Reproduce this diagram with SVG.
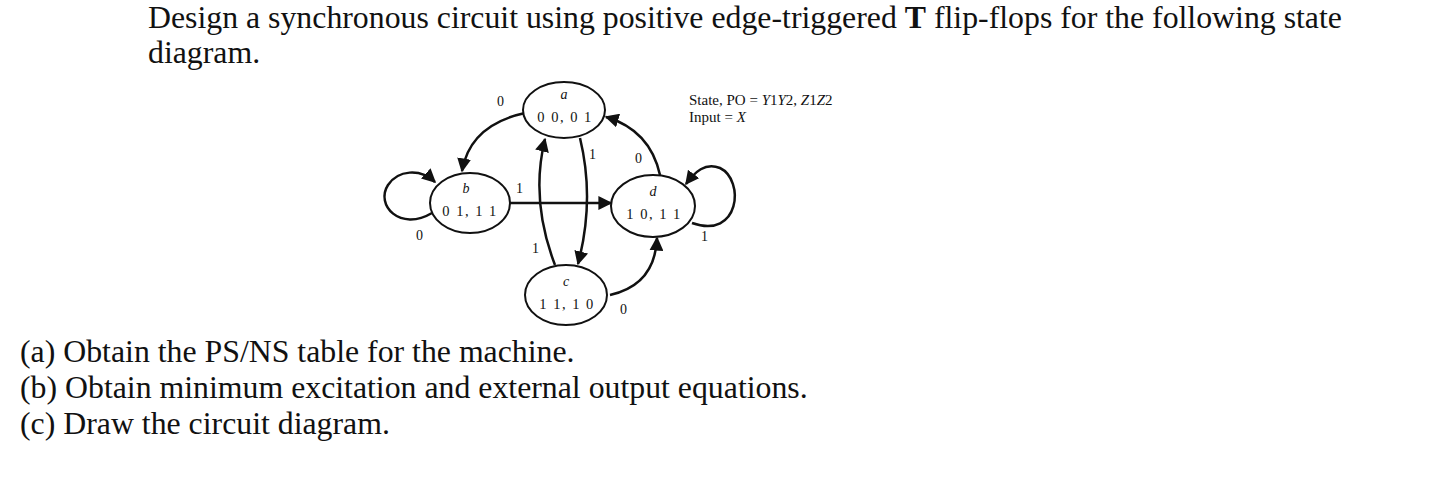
<svg xmlns="http://www.w3.org/2000/svg" width="1440" height="483" viewBox="0 0 1440 483">
<style>
.t{font-family:"Liberation Serif",serif;fill:#111}
.big{font-size:31.8px}
.s{font-size:14px}
.v{font-size:14.5px;letter-spacing:1.5px}
.n{fill:#fff;stroke:#111;stroke-width:2}
.e{fill:none;stroke:#111;stroke-width:2.5}
</style>
<defs><marker id="ah" viewBox="0 0 10 10" refX="9" refY="5" markerWidth="14" markerHeight="14" orient="auto" markerUnits="userSpaceOnUse"><path d="M0,0L10,5L0,10z" fill="#111"/></marker></defs>
<rect width="1440" height="483" fill="#fff"/>
<text class="t big" x="148" y="28">Design a synchronous circuit using positive edge-triggered <tspan font-weight="bold">T</tspan> flip-flops for the following state</text>
<text class="t big" x="148" y="63">diagram.</text>
<g id="connectors">
<path class="e" d="M525,113 Q470,125 462,171" marker-end="url(#ah)"/>
<path class="e" d="M432,213 C400,232 375,205 388,185 C398,170 420,168 435,182" marker-end="url(#ah)"/>
<path class="e" d="M510,203 L611,203" marker-end="url(#ah)"/>
<path class="e" d="M555,265 Q530,200 545,139" marker-end="url(#ah)"/>
<path class="e" d="M580,138 Q595,200 578,264" marker-end="url(#ah)"/>
<path class="e" d="M610,295 Q655,285 657,238" marker-end="url(#ah)"/>
<path class="e" d="M660,175 Q650,130 606,117" marker-end="url(#ah)"/>
<path class="e" d="M692,223 C740,240 745,180 720,168 C705,162 695,172 686,184" marker-end="url(#ah)"/>
</g>
<g class="t s">
<text x="497" y="106">0</text>
<text x="416" y="240">0</text>
<text x="516" y="193">1</text>
<text x="532" y="253">1</text>
<text x="589" y="159">1</text>
<text x="635" y="163">0</text>
<text x="620" y="314">0</text>
<text x="701" y="241">1</text>
</g>
<g id="a"><ellipse class="n" cx="564" cy="110" rx="41" ry="28"/><text class="t s" x="564" y="99" text-anchor="middle" font-style="italic">a</text><text class="t v" x="565" y="122" text-anchor="middle">0 0, 0 1</text></g>
<g id="b"><ellipse class="n" cx="470" cy="203" rx="40" ry="30"/><text class="t s" x="466" y="193" text-anchor="middle" font-style="italic">b</text><text class="t v" x="470" y="216" text-anchor="middle">0 1, 1 1</text></g>
<g id="d"><ellipse class="n" cx="653" cy="206" rx="42" ry="31"/><text class="t s" x="653" y="196" text-anchor="middle" font-style="italic">d</text><text class="t v" x="654" y="219" text-anchor="middle">1 0, 1 1</text></g>
<g id="c"><ellipse class="n" cx="566" cy="295" rx="41" ry="30"/><text class="t s" x="566" y="286" text-anchor="middle" font-style="italic">c</text><text class="t v" x="567" y="309" text-anchor="middle">1 1, 1 0</text></g>
<text class="t" font-size="15" x="689" y="105">State, PO = <tspan font-style="italic">Y</tspan>1<tspan font-style="italic">Y</tspan>2, <tspan font-style="italic">Z</tspan>1<tspan font-style="italic">Z</tspan>2</text>
<text class="t" font-size="15" x="689" y="122">Input = <tspan font-style="italic">X</tspan></text>
<text class="t big" x="20" y="362">(a) Obtain the PS/NS table for the machine.</text>
<text class="t big" x="20" y="398">(b) Obtain minimum excitation and external output equations.</text>
<text class="t big" x="20" y="434">(c) Draw the circuit diagram.</text>
</svg>
